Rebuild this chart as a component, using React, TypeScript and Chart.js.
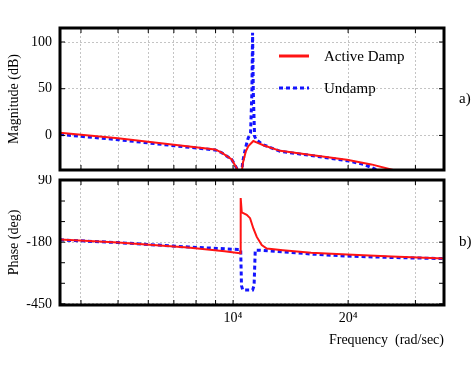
import React, { useEffect, useRef } from 'react';
import { Chart, registerables } from 'chart.js';
Chart.register(...registerables);

const FONT = "'Liberation Serif', 'Times New Roman', serif";

// ---- data ----
const xGridValues = [4000, 5000, 6000, 7000, 8000, 9000, 10000, 20000, 30000];
const xTickLabels: Record<number, string> = { 10000: '10⁴', 20000: '20⁴' };
const magTicks = [0, 50, 100];
const phaseTicks = [-450, -180, 90];
const phaseMinorTicks = [-450, -360, -270, -180, -90, 0, 90];
const seriesNames = ['Active Damp', 'Undamp'];
const panelLabels = ['a)', 'b)'];

const magFreqActive = [3525, 5000, 7000, 8975, 9342, 9922, 10287, 10450, 10600, 10800, 10966, 11300, 11600, 12000, 13280, 16000, 19850, 23000, 26240, 35640];
const magActive = [3, -3, -10, -15, -18.5, -25.7, -37, -55, -30, -17, -11.5, -6, -8, -10.5, -16.5, -21, -26, -31, -37, -50];

const magFreqUndamp = [3525, 5000, 7000, 8975, 9342, 9922, 10287, 10450, 10600, 10800, 10950, 11112, 11200, 11247, 11300, 11384, 11521, 12000, 13280, 16000, 19850, 22000, 24000, 35640];
const magUndamp = [1, -4.5, -11, -15.5, -18.5, -25.7, -37, -55, -28, -12, -3, 3, 45, 110, 45, -1, -5, -10, -17, -21.5, -27, -31, -37.5, -52];

const phFreqActive = [3525, 5000, 7625, 9500, 10306, 10440, 10470, 10538, 10860, 11079, 11302, 11535, 11885, 12253, 13500, 16000, 19870, 26000, 35640];
const phActive = [-168, -182, -203, -220, -227, -229, 13, -50, -60, -75, -120, -157, -193, -208, -215, -226, -234, -243, -252];

const phFreqUndamp = [3525, 5000, 7625, 10306, 10470, 10520, 10600, 11250, 11350, 11430, 12000, 13500, 16000, 19870, 26000, 35640];
const phUndamp = [-170, -182, -201, -212, -212, -370, -389, -389, -370, -215, -216, -222, -232, -241, -247, -252];

const toPts = (xs: number[], ys: number[]) => xs.map((x, i) => ({ x, y: ys[i] }));

const RED = 'rgb(255,20,20)';
const BLUE = 'rgb(20,20,255)';
const GRID = '#c4c4c4';

function makeDatasets(fa: number[], a: number[], fu: number[], u: number[]) {
  return [
    { label: seriesNames[0], data: toPts(fa, a), borderColor: RED, borderWidth: 2, pointRadius: 0, tension: 0, order: 1 },
    { label: seriesNames[1], data: toPts(fu, u), borderColor: BLUE, borderWidth: 3, borderDash: [4, 3], pointRadius: 0, tension: 0, order: 2 },
  ];
}

function framePlugin(label: string, minorY: number[], withLegend: boolean) {
  return {
    id: 'frame' + label,
    afterDatasetsDraw(chart: any) {
      const { ctx, chartArea: a, scales } = chart;
      ctx.save();
      ctx.strokeStyle = '#000';
      ctx.lineWidth = 1;
      ctx.setLineDash([]);
      ctx.beginPath();
      for (const v of minorY) {
        const y = scales.y.getPixelForValue(v);
        ctx.moveTo(a.left, y); ctx.lineTo(a.left + 5, y);
        ctx.moveTo(a.right, y); ctx.lineTo(a.right - 5, y);
      }
      for (const v of xGridValues) {
        const x = scales.x.getPixelForValue(v);
        ctx.moveTo(x, a.bottom); ctx.lineTo(x, a.bottom - 5);
        ctx.moveTo(x, a.top); ctx.lineTo(x, a.top + 5);
      }
      ctx.stroke();
      ctx.lineWidth = 3;
      ctx.strokeRect(a.left, a.top, a.right - a.left, a.bottom - a.top);
      ctx.fillStyle = '#000';
      ctx.font = `15px ${FONT}`;
      ctx.textBaseline = 'middle';
      ctx.textAlign = 'left';
      ctx.fillText(label, a.right + 15, (a.top + a.bottom) / 2);
      if (withLegend) {
        const lx0 = a.left + 219, lx1 = a.left + 249, tx = a.left + 264;
        const y1 = a.top + 28, y2 = a.top + 60;
        ctx.lineWidth = 3;
        ctx.strokeStyle = RED;
        ctx.beginPath(); ctx.moveTo(lx0, y1); ctx.lineTo(lx1, y1); ctx.stroke();
        ctx.strokeStyle = BLUE;
        ctx.setLineDash([4, 3]);
        ctx.beginPath(); ctx.moveTo(lx0, y2); ctx.lineTo(lx1, y2); ctx.stroke();
        ctx.setLineDash([]);
        ctx.fillText(seriesNames[0], tx, y1 + 1);
        ctx.fillText(seriesNames[1], tx, y2 + 1);
      }
      ctx.restore();
    },
  };
}

function xScale(showLabels: boolean, title?: string) {
  return {
    type: 'logarithmic',
    min: 3525,
    max: 35640,
    afterBuildTicks: (s: any) => { s.ticks = xGridValues.map((v) => ({ value: v })); },
    afterFit: (s: any) => {
      s.height = showLabels ? 62 : 5;
      s.paddingLeft = 0; s.paddingRight = 0; s.paddingTop = 0; s.paddingBottom = 0;
    },
    ticks: {
      display: showLabels,
      autoSkip: false,
      maxRotation: 0,
      padding: 5,
      color: '#000',
      font: { family: FONT, size: 14 },
      callback: (v: any) => xTickLabels[v as number] ?? '',
    },
    grid: { color: GRID, lineWidth: 1, drawTicks: false },
    border: { display: false, dash: [2, 2] },
    title: title
      ? { display: true, text: title, align: 'end', color: '#000', font: { family: FONT, size: 14 }, padding: { top: 0, bottom: 18 } }
      : { display: false },
  };
}

function yScale(min: number, max: number, ticks: number[], title: string) {
  return {
    min,
    max,
    afterBuildTicks: (s: any) => { s.ticks = ticks.map((v) => ({ value: v })); },
    afterFit: (s: any) => {
      s.width = 60;
      s.paddingLeft = 0; s.paddingRight = 0; s.paddingTop = 0; s.paddingBottom = 0;
    },
    ticks: { color: '#000', padding: 8, font: { family: FONT, size: 14 } },
    grid: { color: GRID, lineWidth: 1, drawTicks: false },
    border: { display: false, dash: [2, 2] },
    title: { display: true, text: title, color: '#000', font: { family: FONT, size: 14 }, padding: { top: 6, bottom: 0 } },
  };
}

export default function App() {
  const topRef = useRef<HTMLCanvasElement>(null);
  const botRef = useRef<HTMLCanvasElement>(null);

  useEffect(() => {
    const common = {
      animation: false,
      responsive: false,
      maintainAspectRatio: false,
      devicePixelRatio: 1,
      events: [],
      plugins: { legend: { display: false }, tooltip: { enabled: false } },
    };
    const top = new Chart(topRef.current as HTMLCanvasElement, {
      type: 'line',
      data: { datasets: makeDatasets(magFreqActive, magActive, magFreqUndamp, magUndamp) as any },
      options: {
        ...common,
        layout: { padding: { top: 28, right: 30, left: 0, bottom: 0 } },
        scales: { x: xScale(false) as any, y: yScale(-37, 115, magTicks, 'Magnitude (dB)') as any },
      } as any,
      plugins: [framePlugin(panelLabels[0], magTicks, true)],
    });
    const bot = new Chart(botRef.current as HTMLCanvasElement, {
      type: 'line',
      data: { datasets: makeDatasets(phFreqActive, phActive, phFreqUndamp, phUndamp) as any },
      options: {
        ...common,
        layout: { padding: { top: 5, right: 30, left: 0, bottom: 0 } },
        scales: { x: xScale(true, 'Frequency  (rad/sec)') as any, y: yScale(-455, 92, phaseTicks, 'Phase (deg)') as any },
      } as any,
      plugins: [framePlugin(panelLabels[1], phaseMinorTicks, false)],
    });
    return () => { top.destroy(); bot.destroy(); };
  }, []);

  return (
    <div style={{ position: 'absolute', left: 0, top: 0, width: 474, height: 367, background: '#fff', overflow: 'hidden' }}>
      <canvas ref={topRef} width={474} height={175} style={{ position: 'absolute', left: 0, top: 0 }} />
      <canvas ref={botRef} width={474} height={192} style={{ position: 'absolute', left: 0, top: 175 }} />
    </div>
  );
}
